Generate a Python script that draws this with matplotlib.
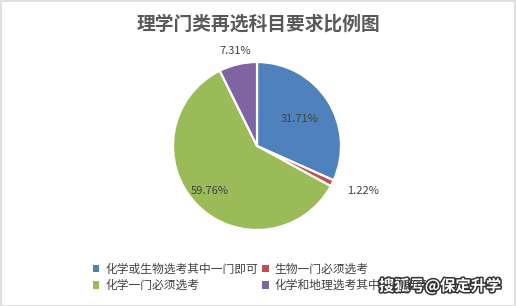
import matplotlib
matplotlib.use("Agg")
import matplotlib.pyplot as plt
import matplotlib.patheffects as pe
from matplotlib.patches import Rectangle, Patch
import numpy as np

plt.rcParams["font.family"] = ["Noto Sans CJK SC", "DejaVu Sans"]

TITLE = "理学门类再选科目要求比例图"
CATEGORIES = ["化学或生物选考其中一门即可", "生物一门必须选考", "化学一门必须选考", "化学和地理选考其中一门即可"]
SHARES = [31.71, 1.22, 59.76, 7.31]
COLORS = ["#4F81BD", "#C0504D", "#9BBB59", "#8064A2"]
LABEL_DIST = [0.6, 1.2, 0.78, 1.16]
TEXT_COLOR = "#404040"

W, H = 516, 306
fig = plt.figure(figsize=(W / 100, H / 100), dpi=100)
fig.patch.set_facecolor("white")
fig.patches.append(Rectangle((0.5 / W, 0.5 / H), 1 - 1.5 / W, 1 - 1.5 / H, transform=fig.transFigure,
                             fill=False, edgecolor="#d9d9d9", lw=1.2))

fig.text(258 / W, 1 - 24 / H, TITLE, ha="center", va="center", fontsize=13.5, fontweight="bold", color="#595959")

# pie axes: radius 84 px, centre at (257, 146)
r_px, cx, cy = 84, 257, 146
ax = fig.add_axes([(cx - r_px) / W, 1 - (cy + r_px) / H, 2 * r_px / W, 2 * r_px / H])
wedges, _ = ax.pie(SHARES, colors=COLORS, startangle=90, counterclock=False, radius=1,
                   wedgeprops=dict(edgecolor="white", linewidth=1.6))
ax.set_xlim(-1, 1)
ax.set_ylim(-1, 1)
ax.set_aspect("equal")
ax.axis("off")

for w, v, d in zip(wedges, SHARES, LABEL_DIST):
    ang = np.deg2rad((w.theta1 + w.theta2) / 2)
    x, y = d * np.cos(ang), d * np.sin(ang)
    ha = "center"
    if d > 1:
        ha = "left" if x > 0.3 else "center"
    ax.text(x, y, f"{v:.2f}%", ha=ha, va="center", fontsize=8, color=TEXT_COLOR)

# legend fills column by column; reorder so rows read blue/red, green/purple
order = [0, 2, 1, 3]
handles = [Patch(facecolor=COLORS[i], edgecolor="none") for i in order]
fig.legend(handles, [CATEGORIES[i] for i in order], loc="upper left", bbox_to_anchor=(82 / W, 1 - 252 / H),
           ncol=2, frameon=False, fontsize=8.5, handlelength=0.55, handleheight=0.55, handletextpad=0.5,
           columnspacing=0.4, labelspacing=0.3, labelcolor=TEXT_COLOR)

fig.text(440 / W, 1 - 286 / H, "搜狐号@保定升学", ha="center", va="center", fontsize=11, fontweight="bold",
         color="white", path_effects=[pe.withStroke(linewidth=2.2, foreground="#333333")])

fig.savefig("out.png", dpi=100)
